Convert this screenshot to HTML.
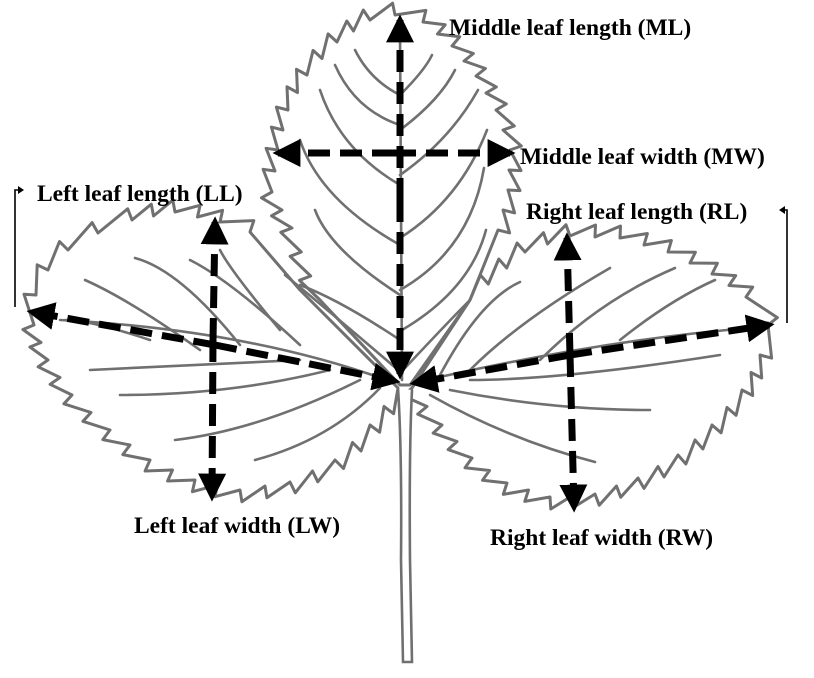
<!DOCTYPE html>
<html><head><meta charset="utf-8"><style>
html,body{margin:0;padding:0;background:#fff;}
svg{display:block;}
text{font-family:"Liberation Serif",serif;font-weight:bold;font-size:23.5px;fill:#000;}
</style></head><body>
<svg id="s" width="814" height="678" viewBox="0 0 814 678" xmlns="http://www.w3.org/2000/svg">
<defs>
<marker id="ah" markerWidth="4" markerHeight="4" refX="3.2" refY="2" orient="auto" markerUnits="strokeWidth">
<path d="M0,0 L4,2 L0,4 Z" fill="#000"/></marker>
</defs>
<g id="leaves" fill="#fff" stroke="#707070" stroke-width="3" stroke-linejoin="round" stroke-linecap="round"></g>
<g fill="none" stroke="#707070" stroke-width="2.6" stroke-linecap="round">
<path d="M400,30 L402,380"/>
<path d="M400,95 Q370,80 355,50"/><path d="M400,95 Q425,70 432,55"/>
<path d="M400,125 Q355,110 335,65"/><path d="M400,130 Q440,100 455,70"/>
<path d="M400,185 Q340,150 320,90"/><path d="M400,175 Q450,140 478,90"/>
<path d="M400,245 Q320,200 300,140"/><path d="M400,238 Q460,200 487,130"/>
<path d="M400,295 Q330,250 315,210"/><path d="M400,290 Q470,250 484,168"/>
<path d="M400,340 Q340,300 300,285"/><path d="M402,330 Q470,290 486,230"/>
<path d="M398,370 Q340,320 285,275"/><path d="M405,368 Q450,320 470,300"/>
<path d="M392,382 Q250,330 60,320"/>
<path d="M300,345 Q230,280 190,260"/>
<path d="M200,350 Q130,300 85,280"/>
<path d="M240,345 Q180,270 135,258"/>
<path d="M150,340 Q90,320 65,320"/>
<path d="M300,360 Q200,365 90,370"/>
<path d="M330,370 Q230,395 120,395"/>
<path d="M360,380 Q260,430 175,440"/>
<path d="M380,388 Q330,440 255,460"/>
<path d="M280,330 Q230,270 220,250"/>
<path d="M418,382 Q600,340 750,328"/>
<path d="M470,370 Q520,320 610,268"/>
<path d="M540,360 Q600,300 675,268"/>
<path d="M620,340 Q670,300 715,280"/>
<path d="M470,380 Q560,380 720,355"/>
<path d="M450,390 Q550,410 650,410"/>
<path d="M430,395 Q510,440 595,462"/>
<path d="M440,375 Q480,300 520,282"/>
<path d="M398,388 Q402,450 401,560 L403,662 L412,662 L410,560 Q409,450 412,390" fill="#fff"/>
</g>
<g stroke="#000" stroke-width="7" stroke-dasharray="22,10" fill="none" marker-end="url(#ah)">
<line x1="400" y1="200" x2="400" y2="20"/>
<line x1="400" y1="200" x2="400" y2="374"/>
<line x1="394" y1="153" x2="278" y2="153"/>
<line x1="394" y1="153" x2="510" y2="153"/>
<line x1="213" y1="340" x2="215" y2="222"/>
<line x1="213" y1="340" x2="212" y2="496"/>
<line x1="215" y1="345" x2="32" y2="312"/>
<line x1="215" y1="345" x2="395" y2="381"/>
<line x1="570" y1="355" x2="567" y2="238"/>
<line x1="570" y1="355" x2="574" y2="507"/>
<line x1="570" y1="355" x2="769" y2="325"/>
<line x1="570" y1="355" x2="415" y2="383"/>
</g>
<g stroke="#000" stroke-width="1.6" fill="none">
<path d="M15,307 L15,190 L22,190"/>
<path d="M787,323 L787,210 L781,210"/>
</g>
<path d="M24,190 L18,186 L18,194 Z" fill="#000"/>
<path d="M779,210 L785,206 L785,214 Z" fill="#000"/>
<text x="449" y="35">Middle leaf length (ML)</text>
<text x="520" y="164">Middle leaf width (MW)</text>
<text x="37" y="201">Left leaf length (LL)</text>
<text x="526" y="219">Right leaf length (RL)</text>
<text x="134" y="533">Left leaf width (LW)</text>
<text x="490" y="545">Right leaf width (RW)</text>
</svg>
<script>
function serr(pts){
  var d="M"+pts[0][0]+","+pts[0][1];
  for(var i=0;i<pts.length-1;i++){
    var A=pts[i],B=pts[i+1],s=pts[i][2];
    var dx=B[0]-A[0],dy=B[1]-A[1],L=Math.hypot(dx,dy);
    if(!s){d+=" L"+B[0]+","+B[1];continue;}
    var n=Math.max(1,Math.round(L/25)),nx=dy/L,ny=-dx/L;
    for(var k=1;k<=n;k++){
      var t=k/n;
      var px=A[0]+dx*t,py=A[1]+dy*t;
      d+=" L"+(px+nx*12).toFixed(1)+","+(py+ny*12).toFixed(1)+" L"+px.toFixed(1)+","+py.toFixed(1);
    }
  }
  return d+" Z";
}
var mid=[[400,385,0],[320,300,1],[292,228,1],[272,192,1],[278,150,1],[288,110,1],[307,75,1],[337,42,1],[370,20,1],[395,15,1],[423,22,1],[452,46,1],[476,76,1],[496,110,1],[510,150,1],[508,190,1],[498,230,0],[470,300,0],[410,385,0]];
var left=[[398,388,1],[370,425,1],[335,460,1],[290,482,1],[240,490,1],[195,480,1],[150,460,1],[110,430,1],[72,395,1],[48,360,1],[34,325,1],[36,295,1],[48,270,1],[68,250,1],[98,233,1],[132,220,1],[175,212,1],[220,222,1],[250,232,0],[300,290,0],[398,388,0]];
var right=[[412,388,0],[470,300,1],[525,252,1],[570,236,1],[620,238,1],[668,252,1],[712,274,1],[746,297,1],[768,325,1],[760,355,1],[742,390,1],[712,425,1],[678,455,1],[638,478,1],[595,494,1],[550,497,1],[507,483,1],[472,458,1],[442,425,1],[412,388,0]];
var g=document.getElementById("leaves"),ns="http://www.w3.org/2000/svg";
[mid,left,right].forEach(function(p){var e=document.createElementNS(ns,"path");e.setAttribute("d",serr(p));g.appendChild(e);});
</script>
</body></html>
